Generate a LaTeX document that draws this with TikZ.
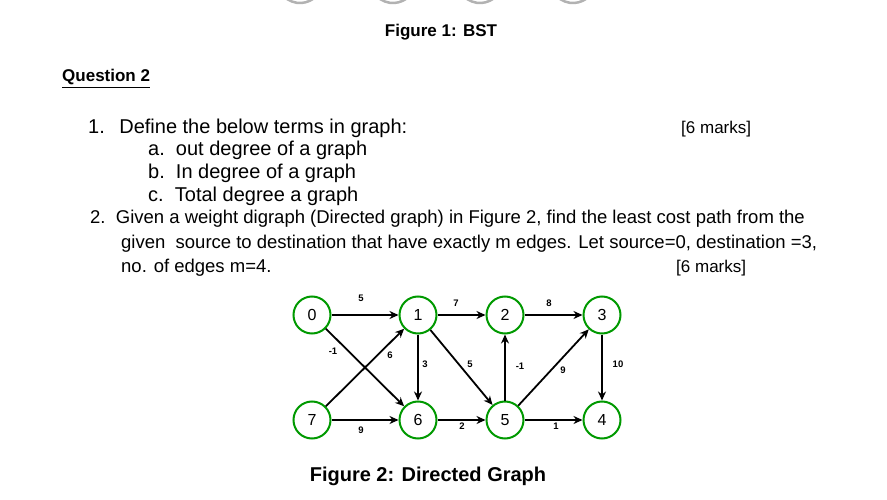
\documentclass[tikz,border=0pt]{standalone}
\usepackage{fontspec}
\setmainfont{Liberation Sans}
\usetikzlibrary{arrows.meta}
\begin{document}
\begin{tikzpicture}[x=1pt,y=-1pt,
  vtx/.style={circle,draw=green!60!black,line width=2pt,minimum size=37pt,inner sep=0pt,font=\fontsize{16}{16}\selectfont},
  edge/.style={-{Stealth[length=9pt,width=8pt]},line width=1.8pt},
  wl/.style={font=\bfseries\fontsize{9.5}{9.5}\selectfont},
  txt/.style={anchor=base west,inner sep=0pt}]
\useasboundingbox (0,0) rectangle (887,500);
\foreach \cx in {300,393,480,573}
  \draw[gray!60,line width=2.5pt] (\cx,-20) ++(20:23) arc[start angle=20,end angle=160,radius=23];
\node[font=\bfseries\fontsize{17}{17}\selectfont] (f1) at (441,32) {Figure 1: BST};
\node[txt,font=\bfseries\fontsize{17}{17}\selectfont] (q2) at (62,82) {\underline{Question 2}};
\node[txt,font=\fontsize{20}{20}\selectfont] (i1) at (88,134) {1.\ \ \,Define the below terms in graph:};
\node[txt,font=\fontsize{17}{17}\selectfont] (m1) at (681,134) {[6 marks]};
\node[txt,font=\fontsize{20}{20}\selectfont] (ia) at (148,156) {a.\ \ out degree of a graph};
\node[txt,font=\fontsize{20}{20}\selectfont] (ib) at (148,179) {b.\ \ In degree of a graph};
\node[txt,font=\fontsize{20}{20}\selectfont] (ic) at (148,202) {c.\ \ Total degree a graph};
\node[txt,font=\fontsize{18.5}{18.5}\selectfont] (i2) at (90,224) {2.\ \ Given a weight digraph (Directed graph) in Figure 2, find the least cost path from the};
\node[txt,font=\fontsize{18.5}{18.5}\selectfont] (i2b) at (121,248) {given\ \ source to destination that have exactly m edges. Let source=0, destination =3,};
\node[txt,font=\fontsize{18.5}{18.5}\selectfont] (i2c) at (121,272) {no. of edges m=4.};
\node[txt,font=\fontsize{17}{17}\selectfont] (m2) at (676,272) {[6 marks]};
\node[vtx] (n0) at (312,315) {0};
\node[vtx] (n1) at (418,315) {1};
\node[vtx] (n2) at (505,315) {2};
\node[vtx] (n3) at (602,315) {3};
\node[vtx] (n7) at (312,420) {7};
\node[vtx] (n6) at (418,420) {6};
\node[vtx] (n5) at (505,420) {5};
\node[vtx] (n4) at (602,420) {4};
\draw[edge] (n0) -- (n1);
\draw[edge] (n1) -- (n2);
\draw[edge] (n2) -- (n3);
\draw[edge] (n0) -- (n6);
\draw[edge] (n7) -- (n1);
\draw[edge] (n1) -- (n6);
\draw[edge] (n1) -- (n5);
\draw[edge] (n5) -- (n2);
\draw[edge] (n5) -- (n3);
\draw[edge] (n3) -- (n4);
\draw[edge] (n7) -- (n6);
\draw[edge] (n6) -- (n5);
\draw[edge] (n5) -- (n4);
\node[wl] at (361,298) {5};
\node[wl] at (456,303) {7};
\node[wl] at (549,303) {8};
\node[wl] at (333,351) {-1};
\node[wl] at (390,355) {6};
\node[wl] at (425,364) {3};
\node[wl] at (470,364) {5};
\node[wl] at (520,366) {-1};
\node[wl] at (563,370) {9};
\node[wl] at (618,364) {10};
\node[wl] at (361,430) {9};
\node[wl] at (462,426) {2};
\node[wl] at (556,426) {1};
\node[font=\bfseries\fontsize{20}{20}\selectfont] (f2) at (428,476) {Figure 2: Directed Graph};
\end{tikzpicture}
\end{document}
